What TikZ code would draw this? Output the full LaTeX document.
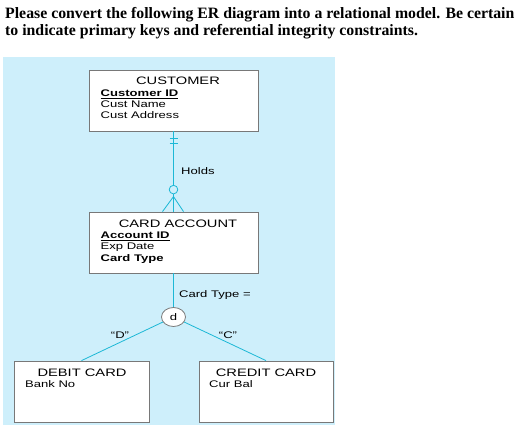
\documentclass[tikz,border=0pt]{standalone}
\usepackage{fontspec}
\setmainfont{Liberation Serif}
\setsansfont[FakeStretch=1.36]{Liberation Sans}
\usetikzlibrary{shapes.geometric, positioning, calc}

\definecolor{skyback}{RGB}{206,239,251}
\definecolor{relcyan}{RGB}{28,184,214}
\definecolor{boxgray}{RGB}{120,120,120}

\tikzset{
  entity/.style={draw=boxgray, fill=white, line width=0.8pt, minimum height=61pt, inner sep=0pt},
  etitle/.style={anchor=base, inner sep=0pt, font=\sffamily\fontsize{10.8}{13}\selectfont},
  eattr/.style={anchor=base west, inner sep=0pt, font=\sffamily\fontsize{9.6}{11}\selectfont},
  rel/.style={draw=relcyan, line width=0.8pt},
  rellabel/.style={anchor=base west, inner sep=0pt, font=\sffamily\fontsize{9.6}{11}\selectfont}
}

\begin{document}
\begin{tikzpicture}[x=1pt, y=-1pt]
\useasboundingbox (0,0) rectangle (524,430);
\fill[skyback] (3,57) rectangle (335,425);

% Question text
\node[anchor=base west, inner sep=0pt, font=\bfseries\fontsize{15.8}{18}\selectfont] (question) at (5,18.3)
  {Please convert the following ER diagram into a relational model. Be certain};
\node[anchor=base west, inner sep=0pt, font=\bfseries\fontsize{15.8}{18}\selectfont] (question2) at (5,36)
  {to indicate primary keys and referential integrity constraints.};

% Supertype entities
\node[entity, minimum width=169pt] (cust) at (173.5,100.5) {};
\node[etitle] (custname) at (178,85) {CUSTOMER};
\node[eattr] (custid) at (100.5,97) {\bfseries\underline{Customer ID}};
\node[eattr] (custnm) at (100.5,108) {Cust Name};
\node[eattr] (custaddr) at (100.5,118.5) {Cust Address};

\node[entity, minimum width=169pt] (card) at (173.5,242.5) {};
\node[etitle] (cardname) at (178,227) {CARD ACCOUNT};
\node[eattr] (acctid) at (100.5,239) {\bfseries\underline{Account ID}};
\node[eattr] (expdate) at (100.5,249.5) {Exp Date};
\node[eattr] (cardtype) at (100.5,261) {\bfseries Card Type};

% Holds relationship
\draw[rel] (cust.south) -- (card.north);
\draw[rel] ($(cust.south)+(-4,7)$) -- ++(8,0);
\draw[rel] ($(cust.south)+(-4,12)$) -- ++(8,0);
\draw[rel, fill=skyback] ($(card.north)+(0,-22)$) circle (4.3);
\coordinate (crow) at ($(card.north)+(0,-15)$);
\draw[rel] (crow) -- ($(card.north)+(-11,0)$);
\draw[rel] (crow) -- ($(card.north)+(10,0)$);
\node[rellabel] (holds) at (181,175) {Holds};

% Subtype discriminator
\node[draw=boxgray, fill=white, ellipse, line width=0.8pt, minimum width=24pt, minimum height=19pt, inner sep=0pt,
      font=\sffamily\fontsize{9.6}{11}\selectfont] (disc) at (173.5,317) {d};
\draw[rel] (card.south) -- (disc);
\node[rellabel] (ctype) at (179,297) {Card Type =};

% Subtype entities
\node[entity, minimum width=135pt] (debit) at (81.5,391.5) {};
\node[etitle] (debitname) at (82,376) {DEBIT CARD};
\node[eattr] (bankno) at (25,387.5) {Bank No};

\node[entity, minimum width=134pt] (credit) at (266,391.5) {};
\node[etitle] (creditname) at (266,376) {CREDIT CARD};
\node[eattr] (curbal) at (209,387.5) {Cur Bal};

\draw[rel] (disc) -- (debit.north);
\draw[rel] (disc) -- (credit.north);
\node[rellabel, anchor=base] (dval) at (120,338) {``D''};
\node[rellabel, anchor=base] (cval) at (228,338) {``C''};
\end{tikzpicture}
\end{document}
